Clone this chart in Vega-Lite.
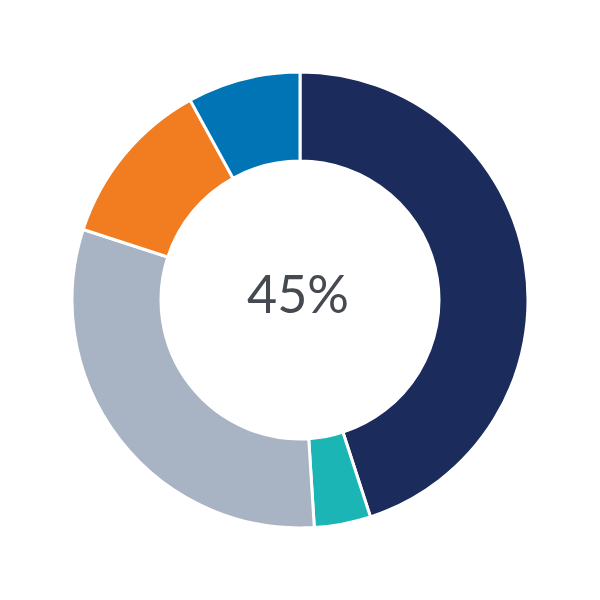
{
  "$schema": "https://vega.github.io/schema/vega-lite/v6.json",
  "description": "Donut chart with the share of the first segment in the middle.",
  "width": 600,
  "height": 600,
  "autosize": {"type": "fit", "contains": "padding"},
  "padding": 0,
  "background": "white",
  "view": {"stroke": null},
  "data": {
    "values": [
      {"segment": "A", "rank": 1, "share": 0.45},
      {"segment": "B", "rank": 2, "share": 0.04},
      {"segment": "C", "rank": 3, "share": 0.31},
      {"segment": "D", "rank": 4, "share": 0.12},
      {"segment": "E", "rank": 5, "share": 0.08}
    ]
  },
  "layer": [
    {
      "mark": {
        "type": "arc",
        "outerRadius": 228,
        "innerRadius": 139,
        "stroke": "white",
        "strokeWidth": 3
      },
      "encoding": {
        "theta": {"field": "share", "type": "quantitative", "stack": true},
        "order": {"field": "rank", "type": "quantitative"},
        "color": {
          "field": "segment",
          "type": "nominal",
          "legend": null,
          "scale": {
            "domain": ["A", "B", "C", "D", "E"],
            "range": ["#1b2b5b", "#1cb5b5", "#a8b3c3", "#f27c20", "#0074b5"]
          }
        }
      }
    },
    {
      "transform": [{"filter": "datum.rank == 1"}],
      "mark": {
        "type": "text",
        "font": "Lato",
        "fontSize": 52,
        "color": "#454a50",
        "align": "center",
        "baseline": "middle"
      },
      "encoding": {
        "text": {"field": "share", "type": "quantitative", "format": ".0%"},
        "x": {"value": 298},
        "y": {"value": 297}
      }
    }
  ]
}
